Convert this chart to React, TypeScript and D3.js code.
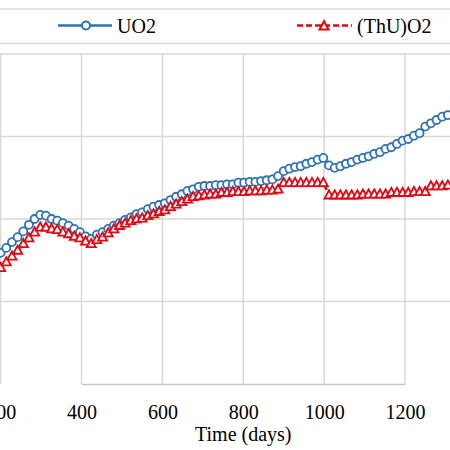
import { useEffect, useRef } from 'react'
import * as d3 from 'd3'

// sampling times (days), one point every 14 days
const days = d3.range(200, 1307, 14)

const uo2 = [
  1.59, 1.65, 1.72, 1.78, 1.85, 1.93, 2.0, 2.05,
  2.04, 2.0, 1.98, 1.95, 1.92, 1.88, 1.84, 1.79,
  1.76, 1.81, 1.84, 1.88, 1.92, 1.95, 1.99, 2.02,
  2.06, 2.08, 2.12, 2.15, 2.17, 2.19, 2.23, 2.27,
  2.3, 2.34, 2.36, 2.39, 2.4, 2.4, 2.41, 2.41,
  2.42, 2.42, 2.44, 2.44, 2.45, 2.45, 2.46, 2.47,
  2.48, 2.52,
  2.58, 2.61, 2.63, 2.64, 2.67, 2.69, 2.72, 2.74,
  2.65, 2.62, 2.64, 2.67, 2.69, 2.72, 2.74, 2.76, 2.79, 2.81, 2.85,
  2.87, 2.91, 2.95, 2.97, 3.01, 3.04, 3.12, 3.16, 3.2, 3.24, 3.26,
]

const thuo2 = [
  1.41, 1.48, 1.55, 1.62, 1.7, 1.77, 1.84, 1.9,
  1.9, 1.88, 1.87, 1.84, 1.82, 1.79, 1.77, 1.73,
  1.7, 1.75, 1.78, 1.83, 1.88, 1.92, 1.95, 1.98,
  2.0, 2.01, 2.04, 2.06, 2.09, 2.11, 2.15, 2.18,
  2.21, 2.24, 2.27, 2.28, 2.29, 2.3, 2.3, 2.32,
  2.32, 2.33, 2.33, 2.33, 2.34, 2.34, 2.34, 2.35,
  2.35, 2.36,
  2.44, 2.44, 2.44, 2.44, 2.44, 2.44, 2.44, 2.44,
  2.29, 2.29, 2.29, 2.29, 2.29, 2.29, 2.3, 2.3, 2.3, 2.3, 2.3,
  2.32, 2.32, 2.32, 2.32, 2.33, 2.33, 2.33, 2.4, 2.4, 2.4, 2.41,
]

const xTicks = d3.range(0, 1401, 200)
const xLabels = d3.range(0, 1201, 200)
const yTicks = [0, 1, 2, 3, 4]

const BLUE = '#2e72b4'
const RED = '#e30613'
const GRID = '#d9d9d9'
const FONT = "'Liberation Serif', 'Times New Roman', Tinos, 'DejaVu Serif', serif"

const W = 450
const H = 450

const App = () => {
  const svgRef = useRef<SVGSVGElement | null>(null)

  useEffect(() => {
    if (!svgRef.current) return
    const svg = d3.select(svgRef.current)
    svg.selectAll('*').remove()

    const x = d3.scaleLinear().domain([400, 1200]).range([81.5, 405])
    const y = d3.scaleLinear().domain([0, 4]).range([384, 54])

    // legend band
    svg.append('line').attr('x1', 0).attr('x2', W).attr('y1', 9).attr('y2', 9)
      .attr('stroke', '#dcdad3').attr('stroke-width', 1.5)
    svg.append('line').attr('x1', 0).attr('x2', W).attr('y1', 43.5).attr('y2', 43.5)
      .attr('stroke', '#dcdad3').attr('stroke-width', 1.5)

    // grid
    const grid = svg.append('g')
    grid.selectAll('.gy').data(yTicks.slice(1)).enter().append('line')
      .attr('x1', 0).attr('x2', W)
      .attr('y1', (d) => y(d)).attr('y2', (d) => y(d))
      .attr('stroke', GRID).attr('stroke-width', 1.5)
    grid.selectAll('.gx').data(xTicks).enter().append('line')
      .attr('x1', (d) => x(d)).attr('x2', (d) => x(d))
      .attr('y1', y(4)).attr('y2', y(0))
      .attr('stroke', GRID).attr('stroke-width', 1.5)

    // x axis
    const xAxis = svg.append('g')
      .attr('transform', `translate(0,${y(0)})`)
      .call(
        d3.axisBottom(x)
          .tickValues(xLabels)
          .tickSize(0)
          .tickPadding(21)
          .tickFormat(d3.format('d'))
      )
    xAxis.select('.domain').attr('stroke', '#c8c8c8').attr('stroke-width', 1.5)
    xAxis.selectAll('text')
      .attr('fill', '#000')
      .style('font-family', FONT)
      .style('font-size', '20px')

    svg.append('text')
      .attr('x', x(800))
      .attr('y', 441)
      .attr('text-anchor', 'middle')
      .style('font-size', '20px')
      .style('font-family', FONT)
      .text('Time (days)')

    const plot = svg.append('g')
    const pts = (vals: number[]) => days.map((d, i) => [d, vals[i]] as [number, number])
    const line = d3.line<[number, number]>().x((d) => x(d[0])).y((d) => y(d[1]))
    const tri = (cx: number, cy: number) =>
      `M${cx},${cy - 4.8}L${cx + 4.5},${cy + 3.4}L${cx - 4.5},${cy + 3.4}Z`

    // UO2
    plot.append('path').datum(pts(uo2)).attr('d', line)
      .attr('fill', 'none').attr('stroke', BLUE).attr('stroke-width', 2.4)
    plot.selectAll('.c').data(pts(uo2)).enter().append('circle')
      .attr('cx', (d) => x(d[0])).attr('cy', (d) => y(d[1])).attr('r', 4)
      .attr('fill', '#fff').attr('stroke', BLUE).attr('stroke-width', 1.8)

    // (ThU)O2
    plot.append('path').datum(pts(thuo2)).attr('d', line)
      .attr('fill', 'none').attr('stroke', RED).attr('stroke-width', 2.4)
      .attr('stroke-dasharray', '6,3')
    plot.selectAll('.t').data(pts(thuo2)).enter().append('path')
      .attr('d', (d) => tri(x(d[0]), y(d[1])))
      .attr('fill', '#fff').attr('stroke', RED).attr('stroke-width', 1.8)

    // legend
    const lg = svg.append('g')
    lg.append('line').attr('x1', 58).attr('x2', 112).attr('y1', 25.5).attr('y2', 25.5)
      .attr('stroke', BLUE).attr('stroke-width', 2.5)
    lg.append('circle').attr('cx', 86).attr('cy', 25.5).attr('r', 4)
      .attr('fill', '#fff').attr('stroke', BLUE).attr('stroke-width', 2)
    lg.append('text').attr('x', 117).attr('y', 33)
      .style('font-family', FONT).style('font-size', '20px').text('UO2')

    lg.append('line').attr('x1', 297).attr('x2', 352).attr('y1', 25.5).attr('y2', 25.5)
      .attr('stroke', RED).attr('stroke-width', 2.5).attr('stroke-dasharray', '6,3')
    lg.append('path').attr('d', tri(324, 26))
      .attr('fill', '#fff').attr('stroke', RED).attr('stroke-width', 2)
    lg.append('text').attr('x', 357).attr('y', 33)
      .style('font-family', FONT).style('font-size', '20px').text('(ThU)O2')
  }, [])

  return (
    <svg
      ref={svgRef}
      width={W}
      height={H}
      style={{ position: 'absolute', left: 0, top: 0, background: '#fff' }}
    />
  )
}

export default App
